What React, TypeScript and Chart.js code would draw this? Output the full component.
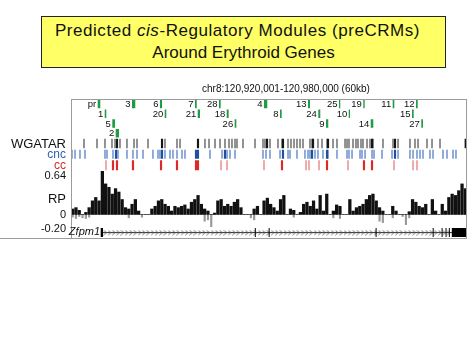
import React, { useEffect, useRef } from 'react';
import { Chart, registerables } from 'chart.js';

Chart.register(...registerables);

// ---------- data ----------
const TITLE_LINE_1_A = 'Predicted ';
const TITLE_LINE_1_I = 'cis';
const TITLE_LINE_1_B = '-Regulatory Modules (preCRMs)';
const TITLE_LINE_2 = 'Around Erythroid Genes';
const REGION_LABEL = 'chr8:120,920,001-120,980,000 (60kb)';
const REGION_KB = [0, 60];

// predicted cis-regulatory modules (kb from region start)
const crmNames = ['pr', '3', '6', '7', '28', '4', '13', '25', '19', '11', '12', '1', '20', '21', '18', '8', '24', '10', '15', '5', '26', '9', '14', '27', '2'];
const crmRows = [1, 1, 1, 1, 1, 1, 1, 1, 1, 1, 1, 2, 2, 2, 2, 2, 2, 2, 2, 3, 3, 3, 3, 3, 4];
const crmStarts = [4.05, 9.24, 13.48, 18.79, 22.42, 29.24, 35.91, 40.61, 44.29, 48.74, 52.27, 5.11, 14.2, 19.2, 23.59, 31.67, 37.47, 42.08, 51.67, 6.26, 24.8, 38.64, 45.41, 53.08, 6.77];
const crmEnds = [4.44, 9.74, 13.79, 19.05, 22.68, 29.74, 36.21, 40.8, 44.5, 48.99, 52.53, 5.35, 14.44, 19.55, 23.89, 31.92, 37.77, 42.27, 51.92, 6.67, 25.05, 38.98, 45.8, 53.33, 7.27];

// motif / binding-site hits (kb)
const wgatarWeak = [1.97, 3.94, 5.15, 6.21, 6.67, 7.42, 8.48, 9.55, 10.0, 11.67, 14.24, 16.06, 16.52, 20.3, 20.91, 21.82, 22.58, 23.33, 23.94, 24.39, 24.85, 25.15, 26.06, 27.88, 29.09, 29.39, 30.15, 31.36, 31.97, 32.88, 33.33, 33.79, 34.24, 34.7, 35.15, 36.21, 36.52, 37.42, 38.03, 38.79, 39.7, 40.3, 41.52, 41.82, 42.12, 42.73, 43.18, 43.48, 43.94, 44.24, 44.85, 45.3, 45.76, 47.27, 48.79, 49.55, 51.36, 52.12, 52.58, 53.94, 54.7, 55.91];
const wgatarStrong = [6.97, 13.79, 19.24, 29.7, 32.12, 36.67, 38.94, 45.61, 49.09, 59.8];
const cncWeak = [0.15, 0.61, 1.36, 2.12, 5.15, 5.45, 6.36, 7.12, 8.48, 9.39, 10.0, 10.91, 12.42, 13.18, 13.48, 14.24, 15.0, 15.45, 16.06, 16.82, 17.27, 21.06, 22.88, 23.64, 24.09, 24.85, 29.09, 29.55, 30.15, 31.67, 32.88, 33.18, 34.24, 35.45, 35.91, 36.21, 36.97, 37.42, 38.18, 38.94, 40.3, 41.82, 42.12, 42.58, 43.79, 44.09, 44.55, 45.61, 45.91, 47.12, 48.64, 49.55, 51.36, 51.82, 52.42, 52.88, 53.33, 54.39, 54.85, 56.36, 56.97, 57.88, 58.33];
const cncStrong = [6.82, 13.79, 18.94, 19.24, 23.33, 32.12, 36.52, 38.79, 49.09];
const ccWeak = [5.3, 22.73, 23.64, 29.24, 35.61, 36.06, 37.58, 41.97, 48.94, 51.82, 52.42];
const ccStrong = [6.36, 6.97, 9.39, 13.64, 16.06, 18.94, 19.24, 31.97, 38.79, 44.39, 45.61];

// regulatory potential, 0.5 kb bins
const RP_BIN_KB = 0.5;
const rpPositive = [
  0.08, 0.1, 0.06, 0, 0.03, 0.1, 0.2, 0.25, 0.2, 0.64,
  0.45, 0.4, 0.3, 0.38, 0.33, 0.22, 0.1, 0.08, 0.15, 0.22,
  0.05, 0, 0, 0, 0.08, 0.12, 0.2, 0.22, 0.15, 0.12,
  0.05, 0.12, 0.1, 0.12, 0.14, 0.08, 0.18, 0.22, 0.28, 0.15,
  0.08, 0.05, 0, 0.02, 0.2, 0.22, 0.12, 0.15, 0.12, 0.18,
  0.22, 0.1, 0, 0, 0, 0.08, 0.12, 0, 0.2, 0.24,
  0.15, 0.1, 0.05, 0.22, 0.28, 0, 0.08, 0.06, 0, 0.03,
  0.15, 0.18, 0.12, 0.2, 0.08, 0.28, 0.05, 0.3, 0, 0.05,
  0.14, 0.12, 0, 0, 0.22, 0.05, 0.1, 0.12, 0.15, 0.22,
  0.28, 0.3, 0.2, 0.1, 0.05, 0, 0, 0.12, 0.05, 0,
  0, 0, 0.04, 0.22, 0.18, 0.12, 0.1, 0.15, 0, 0.22,
  0.05, 0, 0.15, 0.05, 0.25, 0.3, 0.28, 0.35, 0.45, 0.38,
];
const rpNegative = [
  -0.04, -0.06, -0.03, -0.05, -0.06, -0.04, 0, 0, 0, 0,
  0, 0, 0, 0, 0, 0, 0, -0.05, 0, 0,
  0, -0.04, 0, 0, 0, 0, 0, 0, 0, 0,
  0, 0, 0, 0, 0, 0, 0, 0, 0, 0,
  -0.1, -0.08, -0.18, 0, 0, 0, 0, 0, 0, 0,
  0, 0, 0, 0, -0.05, -0.08, 0, 0, 0, 0,
  0, 0, 0, 0, 0, 0, 0, -0.04, 0, 0,
  0, 0, 0, 0, 0, 0, 0, 0, 0, -0.05,
  0, -0.06, 0, 0, 0, 0, 0, 0, 0, 0,
  0, 0, 0, -0.1, -0.12, 0, 0, -0.05, 0, 0,
  -0.03, -0.15, -0.05, 0, 0, 0, 0, 0, 0, 0,
  0, 0, 0, 0, 0, 0, 0, 0, 0, 0,
];
const RP_RANGE = [-0.2, 0.64];
const rpTickValues = [0.64, 0, -0.2];
const rpTickLabels = ['0.64', '0', '-0.20'];

// gene model
const GENE_NAME = 'Zfpm1';
const GENE_START = 4.55;
const GENE_END = 60;
const exonStarts = [4.5, 27.85, 29.95, 46.15, 54.8, 56.15, 56.75, 57.25, 57.7];
const exonEnds = [4.85, 28.0, 30.1, 46.3, 54.95, 56.3, 56.9, 57.4, 60];
const CHEVRON_STEP_KB = 0.65;

// track names
const trackNames = ['WGATAR', 'cnc', 'cc'];
const trackAxes = ['yWg', 'yCnc', 'yCc'];
const trackColors = ['#111111', '#2f5fb0', '#d42a2a'];

const FONT = "'Liberation Sans', Arial, Helvetica, sans-serif";
const GREEN = '#1f9c45';

function segments(starts: number[], ends: number[], ys: number[]) {
  const out: any[] = [];
  starts.forEach((s, i) => {
    out.push({ x: s, y: ys[i] }, { x: ends[i], y: ys[i] }, { x: ends[i], y: null });
  });
  return out;
}

const labelPlugin = {
  id: 'browserLabels',
  afterDatasetsDraw(chart: any) {
    const { ctx, chartArea, scales } = chart;
    const xs = scales.x;
    ctx.save();
    // panel frame
    ctx.strokeStyle = '#9c9c9c';
    ctx.lineWidth = 1;
    const L = Math.round(chartArea.left) + 0.5;
    const T = Math.round(chartArea.top) + 0.5;
    const R = Math.round(chartArea.right) - 0.5;
    const B = Math.round(chartArea.bottom) - 0.5;
    ctx.strokeRect(L, T, R - L, B - T);
    ctx.beginPath();
    ctx.moveTo(0, B);
    ctx.lineTo(L, B);
    ctx.stroke();

    // region label
    ctx.fillStyle = '#111';
    ctx.font = `10px ${FONT}`;
    ctx.textAlign = 'center';
    ctx.textBaseline = 'middle';
    ctx.fillText(REGION_LABEL, (chartArea.left + chartArea.right) / 2 + 17, chartArea.top - 10);

    // preCRM labels
    ctx.font = `9.5px ${FONT}`;
    ctx.textAlign = 'right';
    const yc = scales.yCrm;
    crmNames.forEach((n, i) => {
      ctx.fillText(n, xs.getPixelForValue(crmStarts[i]) - 1.5, yc.getPixelForValue(crmRows[i]) + 0.5);
    });

    // track labels
    const lx = chartArea.left - 5;
    trackNames.forEach((n, i) => {
      const s = scales[trackAxes[i]];
      ctx.fillStyle = trackColors[i];
      ctx.font = i === 0 ? `13px ${FONT}` : `12px ${FONT}`;
      ctx.fillText(n, lx, (s.top + s.bottom) / 2 + 0.5);
    });
    const yr = scales.yRp;
    ctx.fillStyle = '#111';
    ctx.font = `13px ${FONT}`;
    ctx.fillText('RP', lx, (yr.top + yr.bottom) / 2);
    ctx.font = `11px ${FONT}`;
    rpTickValues.forEach((v, i) => {
      let y = yr.getPixelForValue(v);
      if (i === 0) y += 5;
      if (i === 1) y += 1;
      if (i === 2) y += 1;
      ctx.fillText(rpTickLabels[i], lx, y);
    });

    // gene name
    const yg = scales.yGene;
    ctx.font = `italic 11px ${FONT}`;
    ctx.fillText(GENE_NAME, xs.getPixelForValue(GENE_START) - 1, yg.getPixelForValue(0) - 1);
    ctx.restore();
  },
};

export default function App() {
  const ref = useRef<HTMLCanvasElement | null>(null);

  useEffect(() => {
    if (!ref.current) return;
    const chev = document.createElement('canvas');
    chev.width = 4;
    chev.height = 6;
    const c = chev.getContext('2d')!;
    c.strokeStyle = '#555';
    c.lineWidth = 0.9;
    c.beginPath();
    c.moveTo(0.5, 0.8);
    c.lineTo(3.2, 3);
    c.lineTo(0.5, 5.2);
    c.stroke();

    const chevronPts: any[] = [];
    for (let k = GENE_START + CHEVRON_STEP_KB; k < exonStarts[exonStarts.length - 1] - 0.2; k += CHEVRON_STEP_KB) {
      chevronPts.push({ x: k, y: 0 });
    }

    const tickSet = (pos: number[], axis: string, color: string, thick: number) => ({
      type: 'bar' as const,
      data: pos.map((p) => ({ x: p, y: [0.1, 0.9] })),
      xAxisID: 'x',
      yAxisID: axis,
      backgroundColor: color,
      barThickness: thick,
      grouped: false,
    });

    const chart = new Chart(ref.current, {
      type: 'bar',
      data: {
        datasets: [
          {
            type: 'line',
            data: segments(crmStarts, crmEnds, crmRows),
            xAxisID: 'x',
            yAxisID: 'yCrm',
            borderColor: GREEN,
            borderWidth: 8.5,
            borderCapStyle: 'butt',
            pointRadius: 0,
            spanGaps: false,
            tension: 0,
          } as any,
          tickSet(wgatarStrong, 'yWg', '#151515', 1.5),
          tickSet(wgatarWeak, 'yWg', '#7d7d7d', 1),
          tickSet(cncStrong, 'yCnc', '#1f4f9e', 1.5),
          tickSet(cncWeak, 'yCnc', '#7a9cd2', 1),
          tickSet(ccStrong, 'yCc', '#e02828', 1.5),
          tickSet(ccWeak, 'yCc', '#eb9a9a', 1),
          {
            type: 'bar',
            data: rpPositive.map((v, i) => ({ x: REGION_KB[0] + (i + 0.5) * RP_BIN_KB, y: v })),
            xAxisID: 'x',
            yAxisID: 'yRp',
            backgroundColor: '#111',
            barThickness: 2.6,
            grouped: false,
          },
          {
            type: 'bar',
            data: rpNegative.map((v, i) => ({ x: REGION_KB[0] + (i + 0.5) * RP_BIN_KB, y: v })),
            xAxisID: 'x',
            yAxisID: 'yRp',
            backgroundColor: '#999',
            barThickness: 1.5,
            grouped: false,
          },
          {
            type: 'line',
            data: segments(exonStarts, exonEnds, exonStarts.map(() => 0)),
            xAxisID: 'x',
            yAxisID: 'yGene',
            borderColor: '#000',
            borderWidth: 9,
            borderCapStyle: 'butt',
            pointRadius: 0,
            spanGaps: false,
          } as any,
          {
            type: 'line',
            data: chevronPts,
            xAxisID: 'x',
            yAxisID: 'yGene',
            showLine: false,
            pointStyle: chev,
            pointRadius: 2,
          } as any,
          {
            type: 'line',
            data: [{ x: GENE_START, y: 0 }, { x: GENE_END, y: 0 }],
            xAxisID: 'x',
            yAxisID: 'yGene',
            borderColor: '#333',
            borderWidth: 1,
            pointRadius: 0,
          } as any,
        ],
      },
      options: {
        responsive: false,
        animation: false,
        devicePixelRatio: 1,
        events: [],
        layout: { padding: { left: 71, top: 99, right: 7, bottom: 116 } },
        plugins: { legend: { display: false }, tooltip: { enabled: false } },
        scales: {
          x: { type: 'linear', min: REGION_KB[0], max: REGION_KB[1], offset: false, display: false },
          yCrm: { type: 'linear', position: 'left', stack: 'tracks', stackWeight: 39, weight: 6, min: 0.5, max: 4.5, reverse: true, display: false },
          yWg: { type: 'linear', position: 'left', stack: 'tracks', stackWeight: 11, weight: 5, min: 0, max: 1, reverse: true, display: false },
          yCnc: { type: 'linear', position: 'left', stack: 'tracks', stackWeight: 10.5, weight: 4, min: 0, max: 1, reverse: true, display: false },
          yCc: { type: 'linear', position: 'left', stack: 'tracks', stackWeight: 11.5, weight: 3, min: 0, max: 1, reverse: true, display: false },
          yRp: { type: 'linear', position: 'left', stack: 'tracks', stackWeight: 57, weight: 2, min: RP_RANGE[0], max: RP_RANGE[1], display: false },
          yGene: { type: 'linear', position: 'left', stack: 'tracks', stackWeight: 11, weight: 1, min: -1.4, max: 1, display: false },
        } as any,
      },
      plugins: [labelPlugin],
    });
    return () => chart.destroy();
  }, []);

  return (
    <div style={{ position: 'fixed', left: 0, top: 0, width: 474, height: 355, background: '#fff', overflow: 'hidden' }}>
      <canvas ref={ref} width={474} height={355} style={{ position: 'absolute', left: 0, top: 0, width: 474, height: 355 }} />
      <div
        style={{
          position: 'absolute', left: 41, top: 16, width: 403, height: 47, paddingTop: 3,
          background: '#ffff66', border: '1px solid #222', fontFamily: FONT, fontSize: 17,
          lineHeight: '22px', textAlign: 'center', color: '#111',
        }}
      >
        <div style={{ letterSpacing: '0.55px', paddingRight: 12 }}>{TITLE_LINE_1_A}<i>{TITLE_LINE_1_I}</i>{TITLE_LINE_1_B}</div>
        <div>{TITLE_LINE_2}</div>
      </div>
    </div>
  );
}
